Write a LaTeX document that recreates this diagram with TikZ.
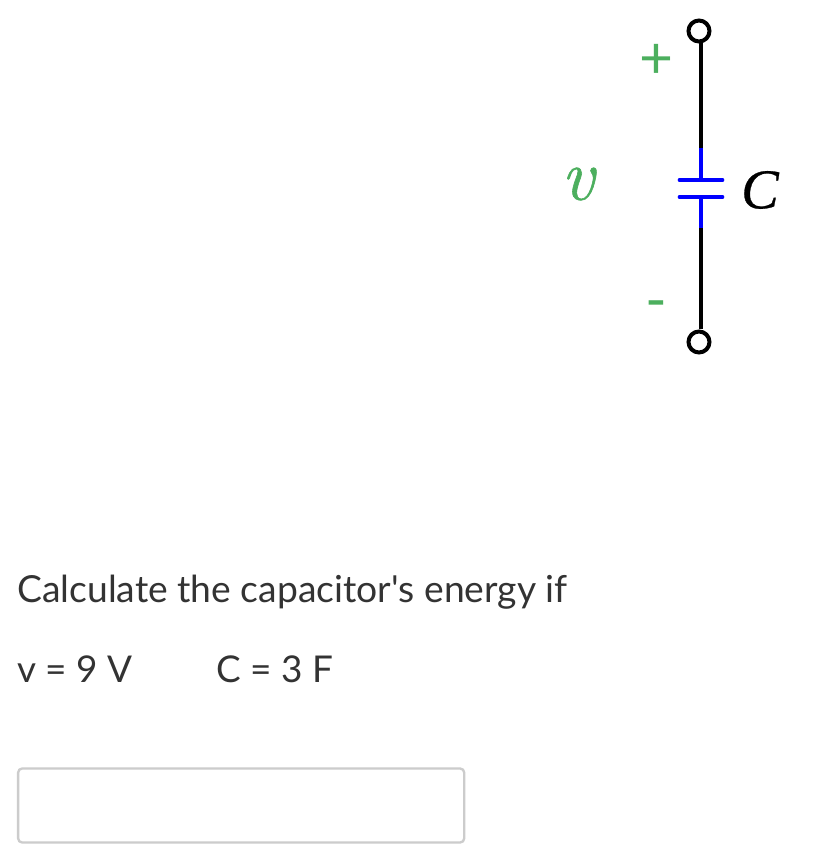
\documentclass[tikz,border=0pt]{standalone}
\usepackage{fontspec}
\setmainfont{Lato}
\newfontfamily\askfont{Lato}
\newfontfamily\symbfont[ItalicFeatures={FakeBold=0.5}]{Liberation Serif}
\newfontfamily\varfont[ItalicFeatures={FakeBold=0.8}]{Latin Modern Roman}
\definecolor{wiregreen}{HTML}{4CAF5E}
\definecolor{textgray}{HTML}{333333}
\definecolor{boxgray}{HTML}{CCCCCC}
\tikzset{
	terminal/.style={draw=black, fill=white, circle, line width=0.12cm, minimum size=0.63cm, inner sep=0pt},
	wire/.style={draw=black, line width=0.12cm},
	capwire/.style={draw=blue, line width=0.12cm},
	plate/.style={draw=blue, line width=0.1cm, line cap=round},
	question/.style={anchor=base west, inner sep=0pt, text=textgray, font=\askfont\fontsize{31.5}{36}\selectfont},
	polarity/.style={text=wiregreen, inner sep=0pt, font=\fontsize{50}{52}\selectfont}
}
\begin{document}
\begin{tikzpicture}
	\useasboundingbox[fill=white] (0 cm, 0 cm) rectangle (25.2 cm, 25.62 cm);
	\node[terminal] (Term P) at (20.97 cm, 24.69 cm) {};
	\node[terminal] (Term N) at (20.97 cm, 15.36 cm) {};
	\coordinate (Plate P) at (21.03 cm, 20.22 cm);
	\coordinate (Plate N) at (21.03 cm, 19.71 cm);
	\coordinate (Lead P) at (21.03 cm, 21.18 cm);
	\coordinate (Lead N) at (21.03 cm, 18.78 cm);
	\draw[wire] (Term P.south -| Lead P) -- (Lead P);
	\draw[wire] (Term N.north -| Lead N) -- (Lead N);
	\draw[capwire] (Lead P) -- (Plate P);
	\draw[capwire] (Lead N) -- (Plate N);
	\draw[plate] ([xshift=-0.65 cm]Plate P) coordinate (Plate P L) -- ([xshift=0.65 cm]Plate P) coordinate (Plate P R);
	\draw[plate] ([xshift=-0.65 cm]Plate N) coordinate (Plate N L) -- ([xshift=0.65 cm]Plate N) coordinate (Plate N R);
	\node[polarity] (Plus) at (19.68 cm, 23.78 cm) {+};
	\node[polarity] (Minus) at (19.68 cm, 16.3 cm) {-};
	\node[text=wiregreen, inner sep=0pt, font=\varfont\itshape\fontsize{62}{64}\selectfont] (Volt) at (17.33 cm, 20.1 cm) {v};
	\node[text=black, inner sep=0pt, font=\symbfont\itshape\fontsize{48}{50}\selectfont] (Cap) at (22.8 cm, 19.92 cm) {C};
	\node[question, font=\askfont\fontsize{31.8}{36}\selectfont] (Ask) at (0.51 cm, 7.53 cm) {Calculate the capacitor's energy if};
	\node[question] (Volt Val) at (0.51 cm, 5.13 cm) {v = 9 V};
	\node[question] (Cap Val) at (6.48 cm, 5.13 cm) {C = 3 F};
	\node[draw=boxgray, line width=0.07cm, rounded corners=0.12cm, anchor=south west, minimum width=13.38 cm, minimum height=2.22 cm, inner sep=0pt] (Answer) at (0.51 cm, 0.31 cm) {};
\end{tikzpicture}
\end{document}
